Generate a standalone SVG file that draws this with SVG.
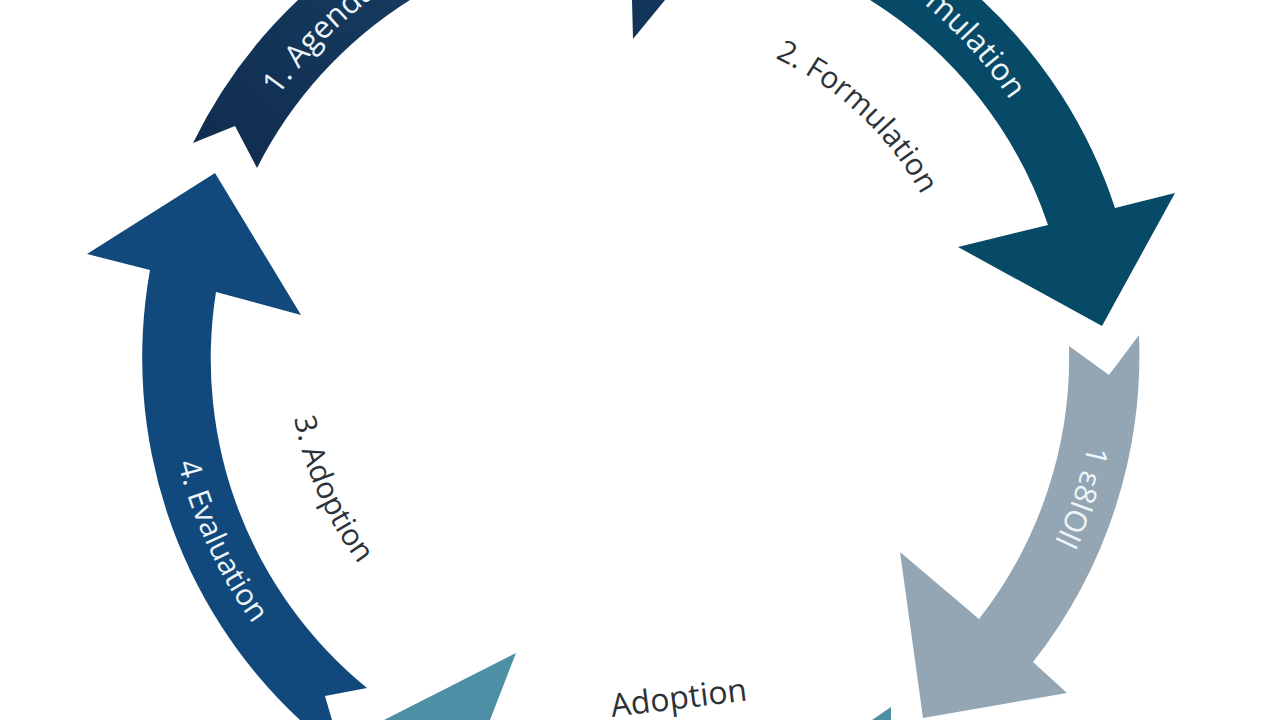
<svg xmlns="http://www.w3.org/2000/svg" width="1280" height="720" viewBox="0 0 1280 720">
<style>
text{font-family:"Open Sans","Noto Sans","Liberation Sans",sans-serif;font-size:30px}
.w{fill:#eef6fa}.d{fill:#2c3238}
</style>
<defs>
<linearGradient id="navy" x1="0" y1="1" x2="1" y2="0"><stop offset="0" stop-color="#102c4e"/><stop offset="1" stop-color="#153a5e"/></linearGradient>
<path id="p1" d="M278 96A442 442 0 0 1 641 -92"/>
<path id="p2" d="M641 -100A450 450 0 0 1 1010 100"/>
<path id="p2b" d="M775 58A320 320 0 0 1 940 235"/>
<path id="p3" d="M294 418A356 356 0 0 0 400 610"/>
<path id="p4" d="M178 463A478 478 0 0 0 300 680"/>
<path id="p5" d="M1088 445A455 455 0 0 1 1000 630"/>
</defs>
<rect width="1280" height="720" fill="#fff"/>
<g id="arrow-agenda">
<path fill="url(#navy)" d="M193 143L235 126L257 168A425 425 0 0 1 410 0L298 0A495 495 0 0 0 193 143Z"/>
<path fill="#14355a" d="M632 0L633 39L665 0Z"/>
<text class="w" style="font-size:31px"><textPath href="#p1">1. Agenda</textPath></text>
</g>
<g id="arrow-formulation">
<path fill="#074a68" d="M870 0A425 425 0 0 1 1048 225L958 247L1102 326L1175 193L1115 208A495 495 0 0 0 982 0Z"/>
<text class="w" style="font-size:31px"><textPath href="#p2" startOffset="100%" text-anchor="end">2. Formulation</textPath></text>
</g>
<g id="label-formulation">
<text class="d"><textPath href="#p2b">2. Formulation</textPath></text>
</g>
<g id="arrow-grey">
<path fill="#94a6b3" d="M1139 335L1109 375L1069 346A425 425 0 0 1 979 619L900 552L923 718L1067 693L1033 662A495 495 0 0 0 1139 335Z"/>
<text class="w" style="font-size:30px"><textPath href="#p5">1 ε8lOll</textPath></text>
</g>
<g id="arrow-evaluation">
<path fill="#12497c" d="M215 173L87 254L150 270A495 495 0 0 0 300 720L332 720L325 696L367 688A425 425 0 0 1 216 292L301 315Z"/>
<text class="w"><textPath href="#p4">4. Evaluation</textPath></text>
</g>
<g id="label-adoption-3">
<text class="d"><textPath href="#p3">3. Adoption</textPath></text>
</g>
<g id="arrow-adoption">
<path fill="#4f8fa6" d="M516 653L384 720L490 720Z"/>
<path fill="#4f8fa6" d="M891 707L872 720L891 720Z"/>
<text class="d" style="font-size:32px" transform="translate(612 717) rotate(-7)">Adoption</text>
</g>
</svg>
